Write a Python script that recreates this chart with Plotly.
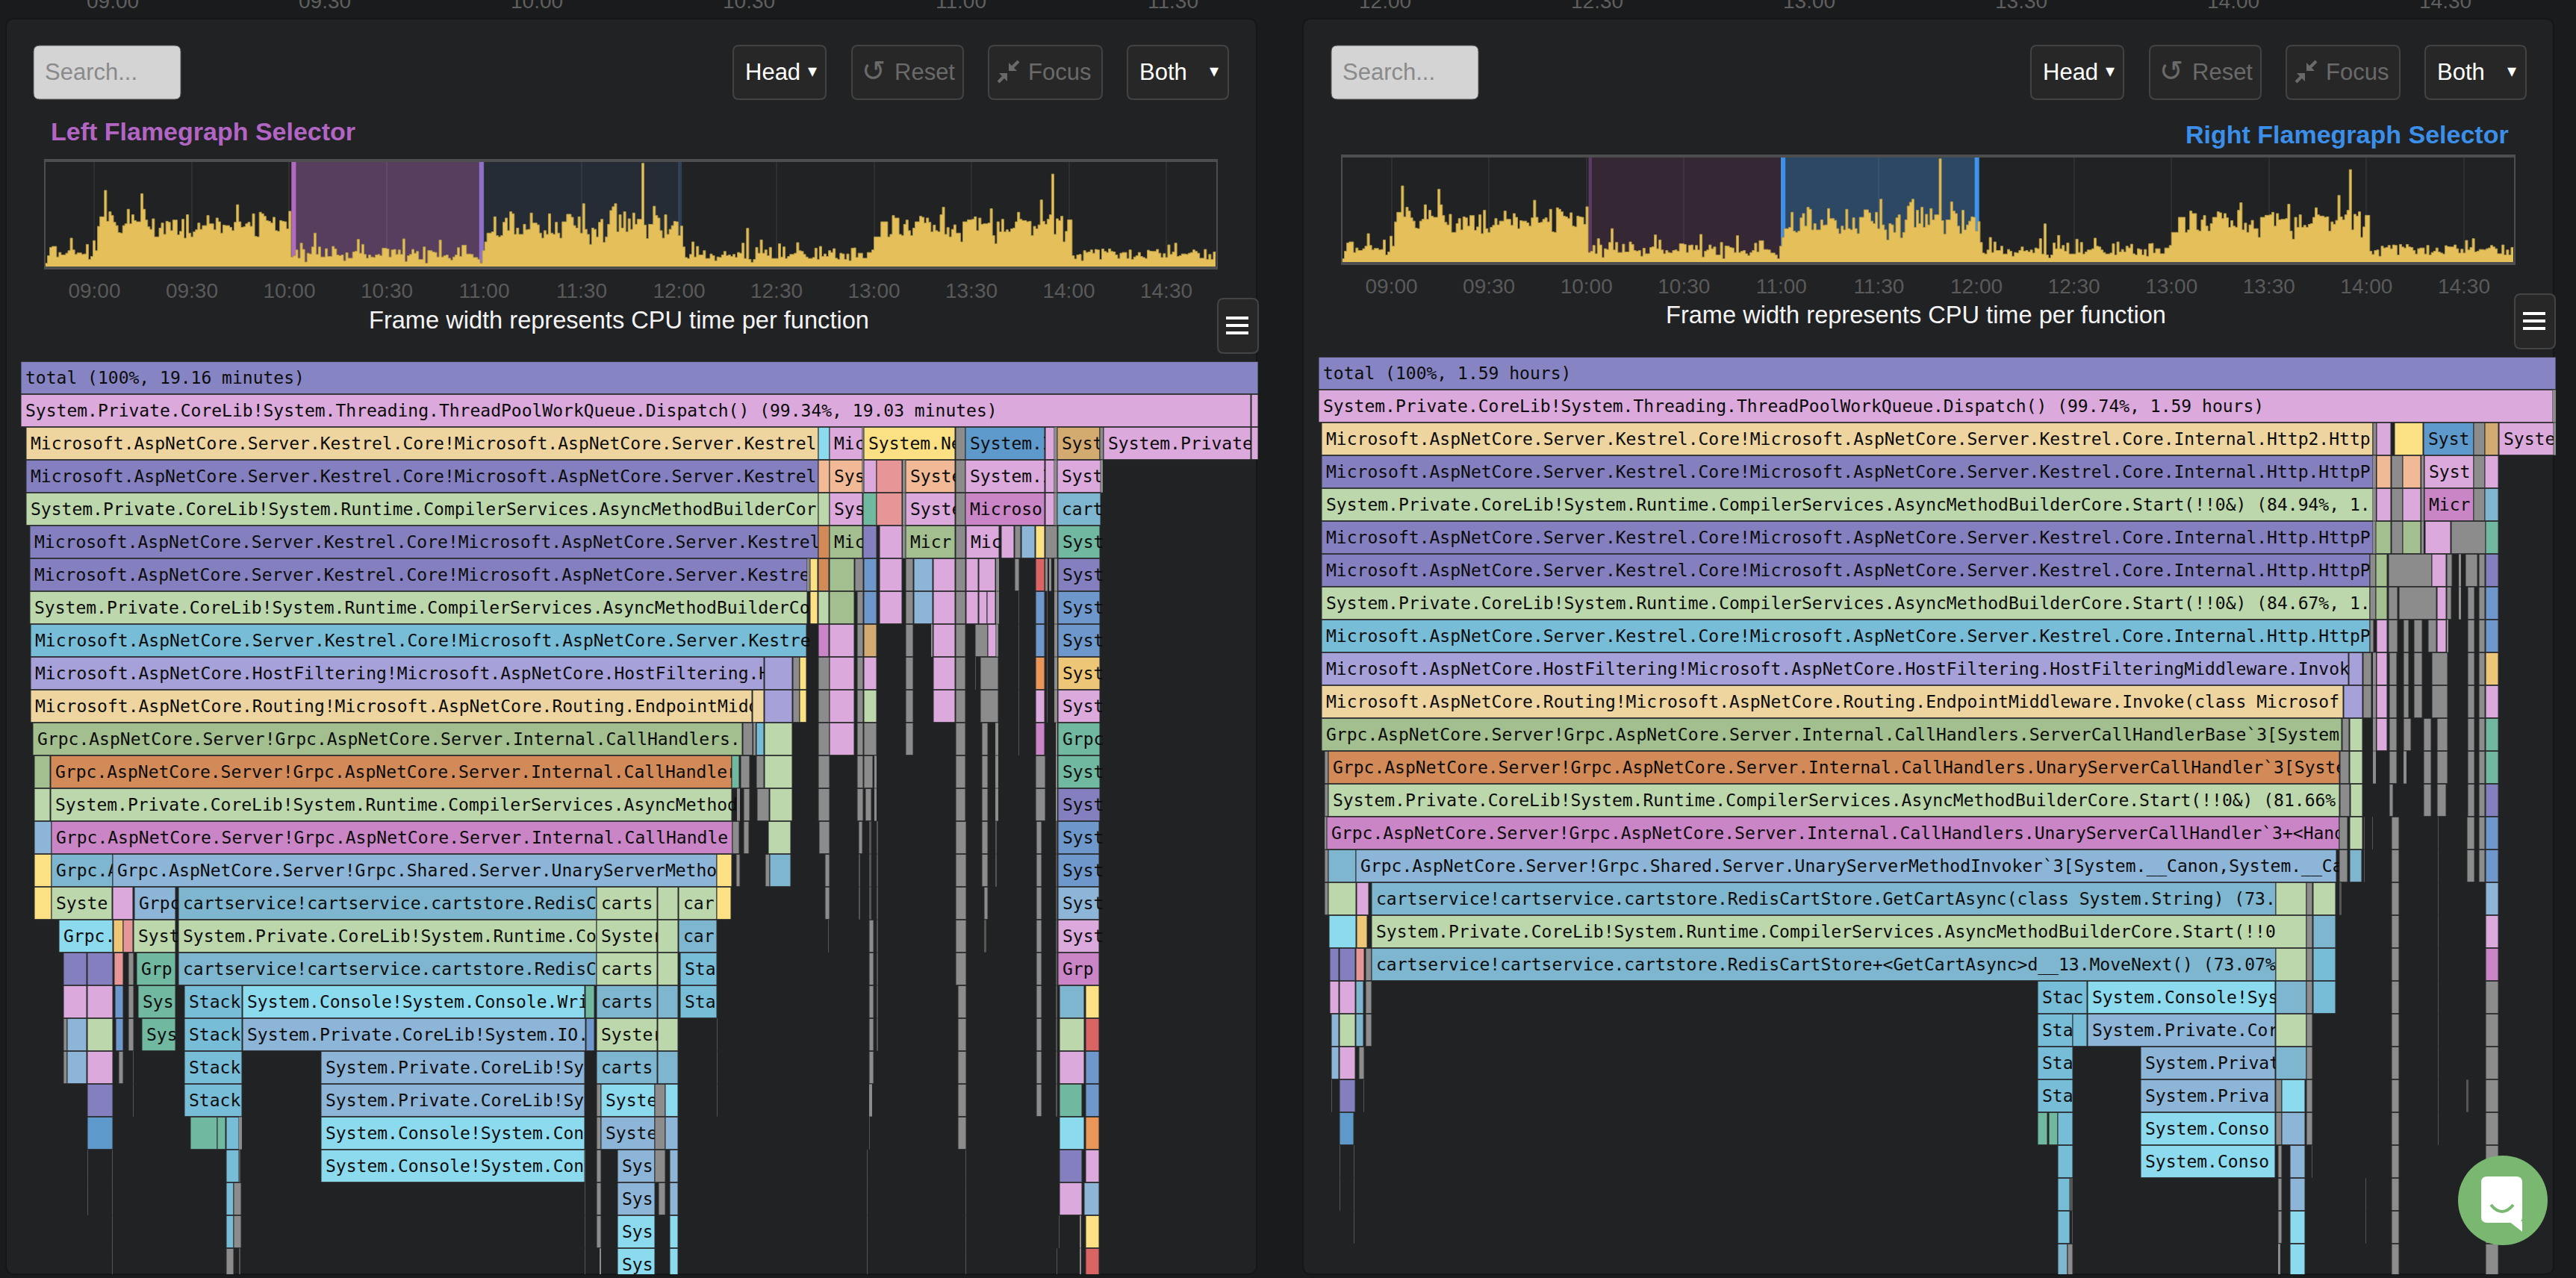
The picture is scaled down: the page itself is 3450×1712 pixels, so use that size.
import pandas as pd
import plotly.graph_objects as go

W, H = 3450, 1712

# CPU profile over time, same series in both selectors
cpu_left = [13,43,76,80,80,38,56,46,46,53,63,113,66,48,54,54,48,50,88,28,40,103,63,160,198,198,303,180,218,203,176,163,135,133,163,170,228,170,206,183,178,178,290,228,185,158,148,190,118,118,153,173,128,180,176,143,185,185,126,140,188,113,206,133,118,138,146,173,148,163,163,203,170,170,146,193,178,133,165,163,163,156,143,176,246,178,156,158,170,176,160,210,120,118,216,210,200,183,180,173,196,143,140,183,180,178,150,220,38,43,66,33,93,68,18,53,50,78,133,48,78,38,38,71,40,40,80,70,46,43,46,23,55,33,33,58,61,108,53,88,48,33,46,38,36,46,48,43,73,73,70,38,66,68,48,66,48,110,20,43,48,68,53,60,28,28,78,13,64,63,58,56,38,105,38,43,46,33,26,38,46,75,40,85,85,50,50,48,36,36,28,13,63,98,133,133,138,198,123,118,123,176,193,143,218,210,128,153,128,128,168,146,148,213,173,173,166,133,113,143,128,210,133,128,176,133,113,178,178,208,208,196,163,153,198,133,250,148,128,88,153,148,118,176,188,96,118,168,223,238,250,138,206,153,218,138,190,148,213,168]
cpu_right = [188,188,411,165,111,168,168,240,203,193,143,113,206,128,148,163,180,178,123,161,78,36,32,48,98,38,80,46,46,63,32,32,50,43,23,38,36,46,60,43,46,40,48,36,56,53,93,32,152,28,16,28,76,53,106,53,66,43,76,32,32,32,91,38,78,32,40,48,48,53,95,63,60,48,38,32,32,36,73,28,80,40,50,40,63,56,71,33,28,53,50,28,50,23,73,74,36,53,53,33,33,56,56,66,118,118,118,178,178,178,118,128,203,193,193,128,123,168,185,143,123,153,178,178,200,196,173,193,176,138,165,143,138,206,236,128,155,118,148,166,133,133,98,178,178,186,186,188,198,143,193,168,170,170,173,230,123,91,178,138,188,138,146,138,150,153,178,216,188,183,183,178,180,123,160,150,166,265,180,168,188,206,368,128,190,183,200,98,140,186,186,43,30,46,48,23,63,56,58,66,53,68,66,28,70,60,56,70,60,58,46,32,53,56,56,32,66,28,38,43,56,40,36,32,65,61,60,60,68,53,36,51,36,86,48,58,93,40,43,50,50,48,53,56,66,60,53,33,33,68,28,48,28,58,60]
cpu_values = cpu_left + cpu_right
cpu_times = pd.date_range('2023-05-10 08:44:50', '2023-05-10 14:45:10', periods=len(cpu_values))
tick_labels_top_left = ['09:00', '09:30', '10:00', '10:30', '11:00', '11:30']
tick_labels_top_right = ['12:00', '12:30', '13:00', '13:30', '14:00', '14:30']

# time range selections
sel_purple = ['2023-05-10 10:00:40', '2023-05-10 10:59:50']
sel_blue = ['2023-05-10 10:59:50', '2023-05-10 12:00:50']

palette = dict(a='#8684C2', p='#DBA9DC', t='#EED5A0', u='#8480BF', g='#BDD7AC', c='#78BDD8', l='#A7A1D9',
               d='#A3BF8F', o='#D28B58', m='#C985C5', b='#8DB5D8', s='#7DB6CE', k='#8CDAEE', y='#FBE084',
               n='#5E99CC', v='#6E98CB', h='#F1B995', f='#E69696', e='#70B8A0', w='#D3AA70', j='#EDC678',
               r='#DA6464', q='#EB9659', x='#8C8C8C', z='#555555')

# Left flamegraph, one entry per stack depth. Units are samples, 1657 in total.
left_starts = [
    [0], [0,1648],
    [7,1068,1083,1127,1129,1252,1265,1372,1384,1388,1445,1450,1648],
    [7,1068,1083,1127,1129,1146,1181,1185,1252,1265,1372,1384,1388,1446],
    [7,1068,1083,1128,1146,1181,1185,1252,1265,1372,1384,1388],
    [12,1068,1083,1128,1150,1181,1185,1252,1266,1313,1331,1340,1359,1372,1389],
    [12,1053,1057,1068,1083,1117,1129,1150,1185,1196,1222,1252,1266,1283,1306,1331,1359,1372,1377,1384,1389],
    [12,1057,1068,1083,1120,1129,1150,1185,1196,1222,1252,1266,1283,1294,1306,1336,1359,1374,1384,1389],
    [13,1068,1083,1120,1129,1185,1219,1222,1252,1278,1295,1306,1336,1359,1374,1384,1389],
    [13,996,1034,1043,1068,1083,1120,1129,1185,1222,1252,1278,1285,1336,1359,1374,1384,1389],
    [13,980,996,1034,1043,1068,1083,1120,1129,1185,1222,1252,1285,1336,1359,1374,1384,1389],
    [16,967,981,985,996,1068,1083,1120,1129,1185,1252,1287,1305,1336,1359,1386,1389],
    [18,40,952,964,985,996,1068,1120,1129,1143,1252,1287,1305,1359,1386,1389],
    [18,40,959,968,986,1003,1068,1120,1131,1143,1252,1287,1305,1359,1386,1389],
    [18,41,953,968,1001,1069,1122,1136,1146,1252,1287,1305,1360,1386,1389],
    [18,41,123,932,958,997,1003,1077,1122,1136,1146,1252,1287,1305,1360,1386,1389],
    [18,41,123,152,211,771,853,881,932,1077,1122,1136,1146,1252,1290,1360,1386,1389],
    [51,124,137,151,211,771,853,881,1081,1136,1146,1252,1290,1360,1386,1389],
    [57,89,125,144,155,211,771,853,883,1136,1146,1252,1360,1386,1389],
    [57,89,126,144,157,219,297,756,771,853,883,1136,1146,1255,1360,1386,1391,1426],
    [57,62,89,127,144,162,219,297,757,771,853,932,1136,1146,1255,1360,1386,1391,1426],
    [57,62,89,131,150,219,402,771,853,932,1136,1255,1360,1386,1391,1426],
    [89,150,219,402,771,777,849,863,932,1136,1255,1360,1386,1391,1426],
    [89,227,263,275,292,402,771,777,849,863,1136,1255,1391,1426],
    [89,122,275,292,402,755,771,799,849,869,1133,1265,1391,1426],
    [89,122,275,285,755,771,799,854,869,1133,1265,1391,1424],
    [122,275,285,755,771,799,869,1133,1265,1390,1418,1426],
    [122,275,292,755,775,799,869,1133,1265,1387,1418,1426],
]
left_ends = [
    [1657], [1647,1657],
    [1068,1083,1127,1129,1251,1265,1371,1384,1388,1445,1450,1647,1657],
    [1068,1083,1127,1129,1146,1180,1185,1251,1265,1371,1384,1388,1446,1449],
    [1068,1083,1127,1146,1180,1185,1251,1265,1371,1384,1388,1446],
    [1068,1083,1127,1146,1180,1185,1251,1265,1310,1330,1339,1358,1371,1388,1445],
    [1053,1057,1067,1082,1116,1128,1146,1180,1195,1221,1251,1265,1282,1305,1310,1337,1371,1375,1380,1388,1445],
    [1053,1067,1082,1116,1128,1146,1180,1195,1221,1251,1265,1282,1294,1305,1310,1337,1371,1375,1388,1445],
    [1052,1082,1116,1128,1146,1195,1221,1251,1265,1295,1306,1309,1337,1371,1375,1388,1445],
    [995,1033,1043,1052,1083,1116,1128,1146,1195,1251,1265,1279,1309,1337,1371,1375,1388,1445],
    [979,995,1033,1043,1052,1083,1116,1128,1146,1195,1251,1265,1309,1337,1371,1375,1388,1445],
    [966,980,984,995,1033,1083,1116,1128,1146,1195,1265,1295,1309,1337,1371,1388,1445],
    [39,952,962,976,995,1033,1083,1128,1141,1146,1265,1295,1309,1372,1388,1445],
    [39,952,963,976,1002,1033,1083,1128,1139,1146,1265,1295,1309,1372,1388,1445],
    [41,953,962,975,1031,1083,1127,1139,1148,1266,1295,1307,1367,1388,1444],
    [41,123,932,952,963,1003,1031,1083,1124,1139,1148,1266,1295,1307,1367,1388,1444],
    [41,122,150,207,771,852,880,932,951,1083,1124,1139,1148,1266,1295,1367,1388,1444],
    [123,137,150,207,771,852,880,932,1082,1142,1148,1266,1293,1367,1388,1444],
    [88,123,137,151,207,771,852,880,932,1142,1148,1266,1367,1388,1444],
    [88,123,137,151,207,296,755,768,852,880,932,1142,1148,1266,1367,1388,1424,1444],
    [62,88,123,137,151,207,296,756,768,852,880,933,1142,1148,1266,1367,1388,1424,1444],
    [62,88,123,137,151,296,755,852,880,933,1142,1266,1367,1388,1424,1444],
    [123,151,296,755,777,849,863,880,933,1140,1266,1367,1388,1421,1444],
    [123,263,274,292,296,755,777,849,863,880,1137,1266,1424,1444],
    [90,123,292,294,755,756,777,849,863,880,1134,1266,1421,1444],
    [90,123,285,295,756,777,849,863,880,1134,1266,1421,1444],
    [123,285,295,756,777,849,880,1134,1266,1391,1420,1444],
    [123,285,294,756,777,849,880,1134,1266,1388,1420,1444],
]
left_colors = ['a', 'pp', 'tkpxyxnpxwxpp', 'uhhxpfxhxppxpx', 'ggpefxpxmpxs', 'uodupxdxppxbyxe',
               'uxyodxvpxbpxppxxrxxxu', 'gygdxvpxbpxpppxzvzxv', 'cmpxwxxpxxpxzvzxv', 'llxyxpxpxpxzxzqzxj',
               'ttlxyxpxgxpxxzpzxp', 'dxxcgxpxxxxxxzmxe', 'doexxgxxxxxxxxxe', 'ggxxxgxxxxxxxxxu',
               'bmxxgxxzzxxzxzv', 'ysbyxxsxzzzxxzxzv', 'ygpbsgggyxzzzxxxzb', 'kjfggggszxzxzxzp',
               'uufxesggcxzxxzm', 'ppvxeckesscxzxxzsy', 'xbgvxecbvggzxzxxzgr', 'xbpxzcbsszxxxzpv',
               'uzcbxkxkzxxxzev', 'neecxkxbxbzxkq', 'zzczkzxbxbzzup', 'zzcxzxbxbzzpb',
               'zcxzxkkzzzxy', 'zxzzxkkzzzxr']

KESTREL = 'Microsoft.AspNetCore.Server.Kestrel.Core!Microsoft.AspNetCore.Server.Kestrel'
ASYNC = 'System.Private.CoreLib!System.Runtime.CompilerServices.AsyncMethodBuilderCore.Start(!!0&) '
REDIS = 'cartservice!cartservice.cartstore.RedisC'
PRIV_SY = 'System.Private.CoreLib!Sy'
CONSOLE = 'System.Console!System.Con'

left_label_rows = [0,1, 2,2,2,2,2,2, 3,3,3,3,3, 4,4,4,4,4, 5,5,5,5,5, 6,6, 7,7, 8,8, 9,9, 10,10, 11,11, 12,12, 13,13,
                   14,14, 15,15,15, 16,16,16,16,16,16, 17,17,17,17,17,17, 18,18,18,18,18, 19,19,19,19,19,
                   20,20,20,20, 21,21,21, 22,22,22, 23,23, 24,24, 25, 26, 27]
left_label_starts = [0,0, 7,1083,1129,1265,1388,1450, 7,1083,1185,1265,1388, 7,1083,1185,1265,1388, 12,1083,1185,1266,1389,
                     12,1389, 12,1389, 13,1389, 13,1389, 13,1389, 16,1389, 40,1389, 40,1389,
                     41,1389, 41,123,1389, 41,152,211,771,881,1389, 51,151,211,771,881,1389, 155,211,771,883,1389,
                     157,219,297,771,883, 162,219,297,771, 219,402,771, 219,402,777, 402,777, 402,799, 799, 799, 799]
left_label_texts = [
    'total (100%, 19.16 minutes)',
    'System.Private.CoreLib!System.Threading.ThreadPoolWorkQueue.Dispatch() (99.34%, 19.03 minutes)',
    KESTREL, 'Mic', 'System.Ne', 'System.I', 'Syst', 'System.Private',
    KESTREL, 'Sys', 'Syste', 'System.I', 'Syst',
    'System.Private.CoreLib!System.Runtime.CompilerServices.AsyncMethodBuilderCor', 'Sys', 'Syste', 'Microso', 'cart',
    KESTREL, 'Mic', 'Micr', 'Mic', 'Syst',
    KESTREL[:-1], 'Syst',
    'System.Private.CoreLib!System.Runtime.CompilerServices.AsyncMethodBuilderCo', 'Syst',
    KESTREL[:-1], 'Syst',
    'Microsoft.AspNetCore.HostFiltering!Microsoft.AspNetCore.HostFiltering.H', 'Syst',
    'Microsoft.AspNetCore.Routing!Microsoft.AspNetCore.Routing.EndpointMidd', 'Syst',
    'Grpc.AspNetCore.Server!Grpc.AspNetCore.Server.Internal.CallHandlers.', 'Grpc',
    'Grpc.AspNetCore.Server!Grpc.AspNetCore.Server.Internal.CallHandler', 'Syst',
    'System.Private.CoreLib!System.Runtime.CompilerServices.AsyncMethod', 'Syst',
    'Grpc.AspNetCore.Server!Grpc.AspNetCore.Server.Internal.CallHandle', 'Syst',
    'Grpc.A', 'Grpc.AspNetCore.Server!Grpc.Shared.Server.UnaryServerMetho', 'Syst',
    'Syste', 'Grpc', REDIS, 'carts', 'car', 'Syst',
    'Grpc.', 'Syst', 'System.Private.CoreLib!System.Runtime.Co', 'Syster', 'car', 'Syst',
    'Grp', REDIS, 'carts', 'Sta', 'Grp',
    'Sys', 'Stack', 'System.Console!System.Console.Wri', 'carts', 'Sta',
    'Sys', 'Stack', 'System.Private.CoreLib!System.IO.', 'Syster',
    'Stack', PRIV_SY, 'carts',
    'Stack', PRIV_SY, 'Syste',
    CONSOLE, 'Syste',
    CONSOLE, 'Sys', 'Sys', 'Sys', 'Sys',
]

# Right flamegraph
right_starts = [
    [0], [0,1653],
    [4,1412,1417,1441,1480,1547,1562,1581,1654],
    [4,1412,1417,1437,1452,1477,1481,1547,1562],
    [4,1412,1417,1437,1452,1477,1481,1547,1562],
    [4,1412,1416,1437,1452,1477,1482,1517,1563],
    [4,1408,1416,1433,1491,1511,1527,1536,1554,1563],
    [4,1408,1416,1433,1447,1498,1511,1527,1539,1554,1563],
    [4,1408,1417,1433,1453,1467,1486,1498,1511,1539,1554,1563],
    [4,1380,1399,1412,1417,1434,1453,1467,1491,1539,1554,1563],
    [4,1373,1399,1412,1417,1434,1453,1467,1491,1539,1554,1563],
    [4,1371,1381,1412,1417,1434,1453,1480,1498,1539,1554,1563],
    [8,13,1368,1381,1412,1434,1453,1480,1498,1539,1554,1563],
    [8,13,1368,1382,1434,1480,1498,1539,1554,1563],
    [8,11,1367,1381,1400,1411,1437,1499,1538,1554,1563],
    [8,13,50,1367,1381,1400,1437,1499,1538,1554,1563],
    [8,13,51,71,1282,1323,1332,1367,1437,1499,1563],
    [14,51,71,1323,1332,1437,1499,1563],
    [15,28,50,63,71,1282,1323,1332,1437,1499,1563],
    [15,28,50,63,963,1030,1282,1323,1332,1437,1499,1563],
    [17,28,50,63,963,1010,1030,1282,1323,1437,1499,1563],
    [17,28,54,963,1101,1282,1323,1437,1499,1563],
    [17,28,60,963,1101,1282,1290,1323,1437,1499,1537,1563],
    [28,963,978,990,1101,1282,1290,1323,1437,1499,1563],
    [28,47,990,1101,1285,1301,1330,1437,1563],
    [28,47,990,1006,1285,1301,1402,1437,1563],
    [47,990,1009,1285,1301,1402,1437,1563],
    [990,1003,1285,1301,1437,1563],
]
right_ends = [
    [1657], [1653,1657],
    [1412,1417,1436,1479,1547,1562,1580,1654,1657],
    [1412,1416,1436,1452,1476,1480,1547,1562,1580],
    [1412,1416,1436,1452,1476,1480,1547,1562,1580],
    [1412,1416,1436,1452,1476,1480,1516,1563,1580],
    [1408,1416,1431,1491,1510,1518,1530,1552,1562,1580],
    [1408,1416,1431,1445,1497,1510,1517,1530,1548,1562,1580],
    [1408,1413,1431,1445,1460,1478,1497,1510,1513,1548,1562,1580],
    [1379,1398,1410,1416,1431,1444,1460,1478,1512,1548,1562,1580],
    [1372,1398,1410,1416,1431,1444,1460,1478,1512,1548,1562,1580],
    [1370,1380,1398,1416,1431,1444,1463,1490,1512,1548,1562,1580],
    [13,1367,1380,1398,1416,1444,1457,1490,1512,1548,1562,1580],
    [13,1367,1381,1398,1439,1490,1510,1548,1562,1580],
    [11,1367,1378,1398,1401,1412,1447,1500,1548,1562,1580],
    [13,50,1363,1378,1397,1401,1447,1500,1548,1562,1580],
    [13,50,67,1282,1323,1331,1362,1370,1447,1500,1580],
    [50,65,1323,1331,1362,1447,1500,1580],
    [27,49,61,71,1282,1323,1331,1362,1447,1500,1580],
    [27,49,60,71,1029,1281,1323,1331,1362,1447,1500,1580],
    [27,49,60,71,1010,1029,1281,1323,1331,1447,1500,1580],
    [27,49,61,1010,1281,1323,1331,1447,1500,1580],
    [18,49,61,1010,1281,1290,1321,1331,1447,1500,1540,1580],
    [47,976,990,1010,1281,1290,1321,1331,1447,1500,1580],
    [29,48,1010,1281,1290,1321,1331,1447,1580],
    [29,48,1006,1010,1290,1321,1403,1447,1580],
    [48,1006,1010,1290,1321,1403,1447,1580],
    [1003,1010,1288,1321,1447,1580],
]
right_colors = ['a', 'px', 'txpynxwpx', 'uxhxhxpxp', 'gxpxpxmxs', 'uxdxdxpxe', 'uxdxpxxxxu', 'gxdxxpxxxxv',
                'cxpxxxxpxxxv', 'llxxpxxxxxxj', 'tlxxpxxxxxxp', 'dxgxpxxxxxxe', 'xoxgxxxxxxxe', 'xgxgxxxxxu',
                'xmxgzzxzxxv', 'xsbxszxzxxv', 'xgpsgxgzxzb', 'kjgxsxzp', 'uufxsgxcxzm', 'ppsxcksxcxzx',
                'bgsxccbgxxzx', 'bpxcbsxxzx', 'zuzcbxkxxzzx', 'neeckxbxxzx', 'zzckxbzxx', 'zzczxbzxx',
                'zczxkzxx', 'sxxkxx']

HTTP = 'Microsoft.AspNetCore.Server.Kestrel.Core!Microsoft.AspNetCore.Server.Kestrel.Core.Internal.Http.HttpP'
right_label_rows = [0,1, 2,2,2, 3,3, 4,4, 5, 6, 7, 8, 9, 10, 11, 12, 13, 14, 15, 16, 17, 18, 19,19, 20,20, 21,21, 22,22, 23, 24]
right_label_starts = [0,0, 4,1480,1581, 4,1481, 4,1481, 4, 4, 4, 4, 4, 4, 4, 13, 13, 11, 50, 71, 71, 71,
                      963,1030, 963,1030, 963,1101, 963,1101, 1101, 1101]
right_label_texts = [
    'total (100%, 1.59 hours)',
    'System.Private.CoreLib!System.Threading.ThreadPoolWorkQueue.Dispatch() (99.74%, 1.59 hours)',
    'Microsoft.AspNetCore.Server.Kestrel.Core!Microsoft.AspNetCore.Server.Kestrel.Core.Internal.Http2.Http', 'Syst', 'Syste',
    HTTP, 'Syst',
    ASYNC + '(84.94%, 1.', 'Micr',
    HTTP, HTTP,
    ASYNC + '(84.67%, 1.',
    HTTP,
    'Microsoft.AspNetCore.HostFiltering!Microsoft.AspNetCore.HostFiltering.HostFilteringMiddleware.Invok',
    'Microsoft.AspNetCore.Routing!Microsoft.AspNetCore.Routing.EndpointMiddleware.Invoke(class Microsof',
    'Grpc.AspNetCore.Server!Grpc.AspNetCore.Server.Internal.CallHandlers.ServerCallHandlerBase`3[System',
    'Grpc.AspNetCore.Server!Grpc.AspNetCore.Server.Internal.CallHandlers.UnaryServerCallHandler`3[Syste',
    ASYNC + '(81.66%,',
    'Grpc.AspNetCore.Server!Grpc.AspNetCore.Server.Internal.CallHandlers.UnaryServerCallHandler`3+<Hand',
    'Grpc.AspNetCore.Server!Grpc.Shared.Server.UnaryServerMethodInvoker`3[System.__Canon,System.__Ca',
    'cartservice!cartservice.cartstore.RedisCartStore.GetCartAsync(class System.String) (73.',
    ASYNC[:87],
    'cartservice!cartservice.cartstore.RedisCartStore+<GetCartAsync>d__13.MoveNext() (73.07%',
    'Stac', 'System.Console!Sys',
    'Sta', 'System.Private.Cor',
    'Sta', 'System.Privat',
    'Sta', 'System.Priva',
    'System.Conso', 'System.Conso',
]

# small spacer in front of frame labels, plotly's own text padding is a bit tight
LABEL_PAD = '<span style="font-size:5px">\u00a0</span>'


def px(x):
    return x / W


def py(y):
    return 1 - y / H


def rrect(x0, y0, x1, y1, r=8):
    # rounded box in page pixels, as a paper coordinate path
    a, b, c, d = px(x0), py(y0), px(x1), py(y1)
    rx, ry = r / W, r / H
    return (f'M{a + rx},{b} L{c - rx},{b} Q{c},{b} {c},{b - ry} L{c},{d + ry} Q{c},{d} {c - rx},{d} '
            f'L{a + rx},{d} Q{a},{d} {a},{d + ry} L{a},{b - ry} Q{a},{b} {a + rx},{b} Z')


def flame_trace(starts, ends, colors, label_rows, label_starts, label_texts, xa, ya):
    labels = {(r, s): t for r, s, t in zip(label_rows, label_starts, label_texts, strict=True)}
    rows, base, widths, fills, texts, lines = [], [], [], [], [], []
    for row, (ss, es, cs) in enumerate(zip(starts, ends, colors, strict=True)):
        for s, e, c in zip(ss, es, cs, strict=True):
            rows.append(row)
            base.append(s)
            widths.append(e - s)
            fills.append(palette[c])
            label = labels.get((row, s), '')
            texts.append(LABEL_PAD + label if label else '')
            lines.append(1 if e - s >= 5 else 0)
    return go.Bar(y=rows, x=widths, base=base, orientation='h', width=0.985, xaxis=xa, yaxis=ya,
                  marker=dict(color=fills, line=dict(color='#2b2c2e', width=lines)),
                  text=texts, textposition='inside', insidetextanchor='start', textangle=0,
                  constraintext='none', cliponaxis=True, hoverinfo='skip',
                  textfont=dict(family='DejaVu Sans Mono', size=23, color='#0c0c0c'))


fig = go.Figure()

for xa, ya in (('x', 'y'), ('x2', 'y2')):
    fig.add_trace(go.Scatter(x=cpu_times, y=cpu_values, xaxis=xa, yaxis=ya, mode='lines', fill='tozeroy',
                             line=dict(color='#B09748', width=1, shape='hv'), fillcolor='#E5C05A',
                             hoverinfo='skip'))

fig.add_trace(flame_trace(left_starts, left_ends, left_colors, left_label_rows, left_label_starts,
                          left_label_texts, 'x3', 'y3'))
fig.add_trace(flame_trace(right_starts, right_ends, right_colors, right_label_rows, right_label_starts,
                          right_label_texts, 'x4', 'y4'))

shapes = []
annotations = []


def note(text, x, y, size, color, anchor='left', family='Liberation Sans', bold=False):
    if bold:
        text = f'<b>{text}</b>'
    annotations.append(dict(text=text, x=px(x), y=py(y), xref='paper', yref='paper', showarrow=False,
                            xanchor=anchor, yanchor='middle', xshift=0,
                            font=dict(family=family, size=size, color=color)))


def box(x0, y0, x1, y1, fill, line='rgba(0,0,0,0)', lw=0, r=8, layer='below'):
    shapes.append(dict(type='path', path=rrect(x0, y0, x1, y1, r), xref='paper', yref='paper', layer=layer,
                       fillcolor=fill, line=dict(color=line, width=lw)))


def icon(path, color, lw=0):
    shapes.append(dict(type='path', path=path, xref='paper', yref='paper', layer='below',
                       fillcolor=color if not lw else 'rgba(0,0,0,0)', line=dict(color=color, width=lw)))


def time_shift(t, sec):
    return str(pd.Timestamp(t) + pd.Timedelta(seconds=sec))


def band(xa, ya, t0, t1, color):
    shapes.append(dict(type='rect', xref=xa, yref=ya + ' domain', x0=t0, x1=t1, y0=0, y1=1, layer='below',
                       fillcolor=color, line=dict(width=0)))


# panels
box(8, 25, 1683, 1707, '#212224', '#151617', 2, r=12)
box(1745, 25, 3420, 1707, '#212224', '#151617', 2, r=12)

for dx, title, tx, ty, tcolor, anchor in ((0, 'Left Flamegraph Selector', 66, 176, '#B365C5', 'left'),
                                          (1738, 'Right Flamegraph Selector', 3362, 180, '#3B8FE8', 'right')):
    box(45 + dx, 61, 242 + dx, 133, '#D4D4D4', '#5a5a5a', 1)
    note('Search...', 58 + dx, 97, 31, '#8a8a8a')
    box(982 + dx, 61, 1106 + dx, 133, '#272727', '#434343', 2)
    note('Head', 996 + dx, 97, 31, '#ffffff')
    note('▾', 1088 + dx, 95, 24, '#ffffff', 'center', 'DejaVu Sans')
    box(1141 + dx, 61, 1290 + dx, 133, '#272727', '#434343', 2)
    note('↺', 1170 + dx, 95, 38, '#6a6a6a', 'center', 'DejaVu Sans')
    note('Reset', 1196 + dx, 97, 31, '#6a6a6a')
    box(1324 + dx, 61, 1476 + dx, 133, '#272727', '#434343', 2)
    # focus icon, two arrows pointing inward
    for pts in (((1364, 82), (1354, 92)), ((1337, 110), (1347, 100))):
        icon(f'M{px(pts[0][0] + dx)},{py(pts[0][1])} L{px(pts[1][0] + dx)},{py(pts[1][1])}', '#6a6a6a', 4)
    icon(f'M{px(1351 + dx)},{py(84)} L{px(1351 + dx)},{py(95)} L{px(1362 + dx)},{py(95)} Z', '#6a6a6a')
    icon(f'M{px(1349 + dx)},{py(109)} L{px(1349 + dx)},{py(98)} L{px(1338 + dx)},{py(98)} Z', '#6a6a6a')
    note('Focus', 1375 + dx, 97, 31, '#6a6a6a')
    box(1510 + dx, 61, 1645 + dx, 133, '#272727', '#434343', 2)
    note('Both', 1524 + dx, 97, 31, '#ffffff')
    note('▾', 1626 + dx, 95, 24, '#ffffff', 'center', 'DejaVu Sans')
    note(title, tx, ty, 34, tcolor, anchor, bold=True)

note('Frame width represents CPU time per function', 829, 428, 32.6, '#f4f4f4', 'center')
note('Frame width represents CPU time per function', 2566, 421, 32.6, '#f4f4f4', 'center')

# hamburger buttons
for x0, y0 in ((1631, 400), (3368, 394)):
    box(x0, y0, x0 + 54, y0 + 73, '#272727', '#444444', 2)
    for off in (26, 36, 46):
        shapes.append(dict(type='rect', xref='paper', yref='paper', x0=px(x0 + 11), x1=px(x0 + 41),
                           y0=py(y0 + off - 2), y1=py(y0 + off + 2), fillcolor='#ffffff', line=dict(width=0)))

# axis labels of the chart above, cut off by the page top
for i, lab in enumerate(tick_labels_top_left):
    note(lab, 151 + 284 * i, 2, 28, '#5f5f5f', 'center')
for i, lab in enumerate(tick_labels_top_right):
    note(lab, 1855 + 284 * i, 2, 28, '#5f5f5f', 'center')

# selection bands, left chart has the purple one active, right chart the blue one
band('x', 'y', sel_purple[0], sel_purple[1], '#573D5E')
band('x', 'y', sel_blue[0], sel_blue[1], '#262C35')
band('x', 'y', sel_purple[0], time_shift(sel_purple[0], 83), '#B06AC0')
band('x', 'y', time_shift(sel_purple[1], -83), sel_purple[1], '#8E6FCB')
band('x', 'y', time_shift(sel_blue[1], -60), sel_blue[1], '#2C3F58')
band('x2', 'y2', sel_purple[0], sel_purple[1], '#352733')
band('x2', 'y2', sel_blue[0], sel_blue[1], '#2C4865')
band('x2', 'y2', sel_purple[0], time_shift(sel_purple[0], 60), '#5B3B63')
band('x2', 'y2', sel_blue[0], time_shift(sel_blue[0], 83), '#3B8FE8')
band('x2', 'y2', time_shift(sel_blue[1], -83), sel_blue[1], '#3B8FE8')

# chat bubble
shapes.append(dict(type='circle', xref='paper', yref='paper', x0=px(3292), x1=px(3412), y0=py(1668), y1=py(1548),
                   fillcolor='#7AB872', line=dict(width=0), layer='above'))
box(3323, 1576, 3378, 1638, '#ffffff', r=8, layer='above')
shapes.append(dict(type='path', xref='paper', yref='paper', layer='above', fillcolor='#ffffff', line=dict(width=0),
                   path=f'M{px(3360)},{py(1636)} L{px(3378)},{py(1636)} L{px(3378)},{py(1650)} Z'))
shapes.append(dict(type='path', xref='paper', yref='paper', layer='above', line=dict(color='#7AB872', width=4),
                   path=f'M{px(3336)},{py(1614)} Q{px(3351)},{py(1632)} {px(3366)},{py(1614)}'))

time_axis = dict(type='date', tickformat='%H:%M', dtick=1800000, tick0='2023-05-10 09:00:00',
                 range=['2023-05-10 08:44:50', '2023-05-10 14:45:24'], showgrid=True,
                 gridcolor='rgba(255,255,255,0.06)', gridwidth=2,
                 showline=True, linecolor='#4e4e4e', linewidth=4, mirror=True, ticks='outside', ticklen=4,
                 tickcolor='rgba(0,0,0,0)', tickfont=dict(family='Liberation Sans', size=28, color='#5a5a5a'),
                 zeroline=False, fixedrange=True)
cpu_axis = dict(range=[0, 416], showgrid=False, zeroline=False, showticklabels=False, ticks='',
                showline=True, linecolor='#4e4e4e', linewidth=2, mirror=True, fixedrange=True)
flame_x = dict(range=[0, 1657], visible=False, fixedrange=True)

fig.update_layout(
    width=W, height=H, margin=dict(l=0, r=0, t=0, b=0), paper_bgcolor='#1a1b1c', plot_bgcolor='rgba(0,0,0,0)',
    barmode='overlay', showlegend=False, shapes=shapes, annotations=annotations,
    xaxis=dict(time_axis, domain=[px(60.5), px(1629)], anchor='y'),
    yaxis=dict(cpu_axis, domain=[py(357), py(217)], anchor='x'),
    xaxis2=dict(time_axis, domain=[px(1797.5), px(3367)], anchor='y2'),
    yaxis2=dict(cpu_axis, domain=[py(351), py(211)], anchor='x2'),
    xaxis3=dict(flame_x, domain=[px(28), px(1685)], anchor='y3'),
    yaxis3=dict(range=[(1707 - 484) / 44 - 0.5, -0.5], domain=[py(1707), py(484)], anchor='x3', visible=False,
                fixedrange=True),
    xaxis4=dict(flame_x, domain=[px(1766), px(3423)], anchor='y4'),
    yaxis4=dict(range=[(1707 - 478) / 44 - 0.5, -0.5], domain=[py(1707), py(478)], anchor='x4', visible=False,
                fixedrange=True),
)

fig.write_html('out.html', config={'displayModeBar': False},
               post_script="document.body.style.margin='0';document.body.style.overflow='hidden';")
